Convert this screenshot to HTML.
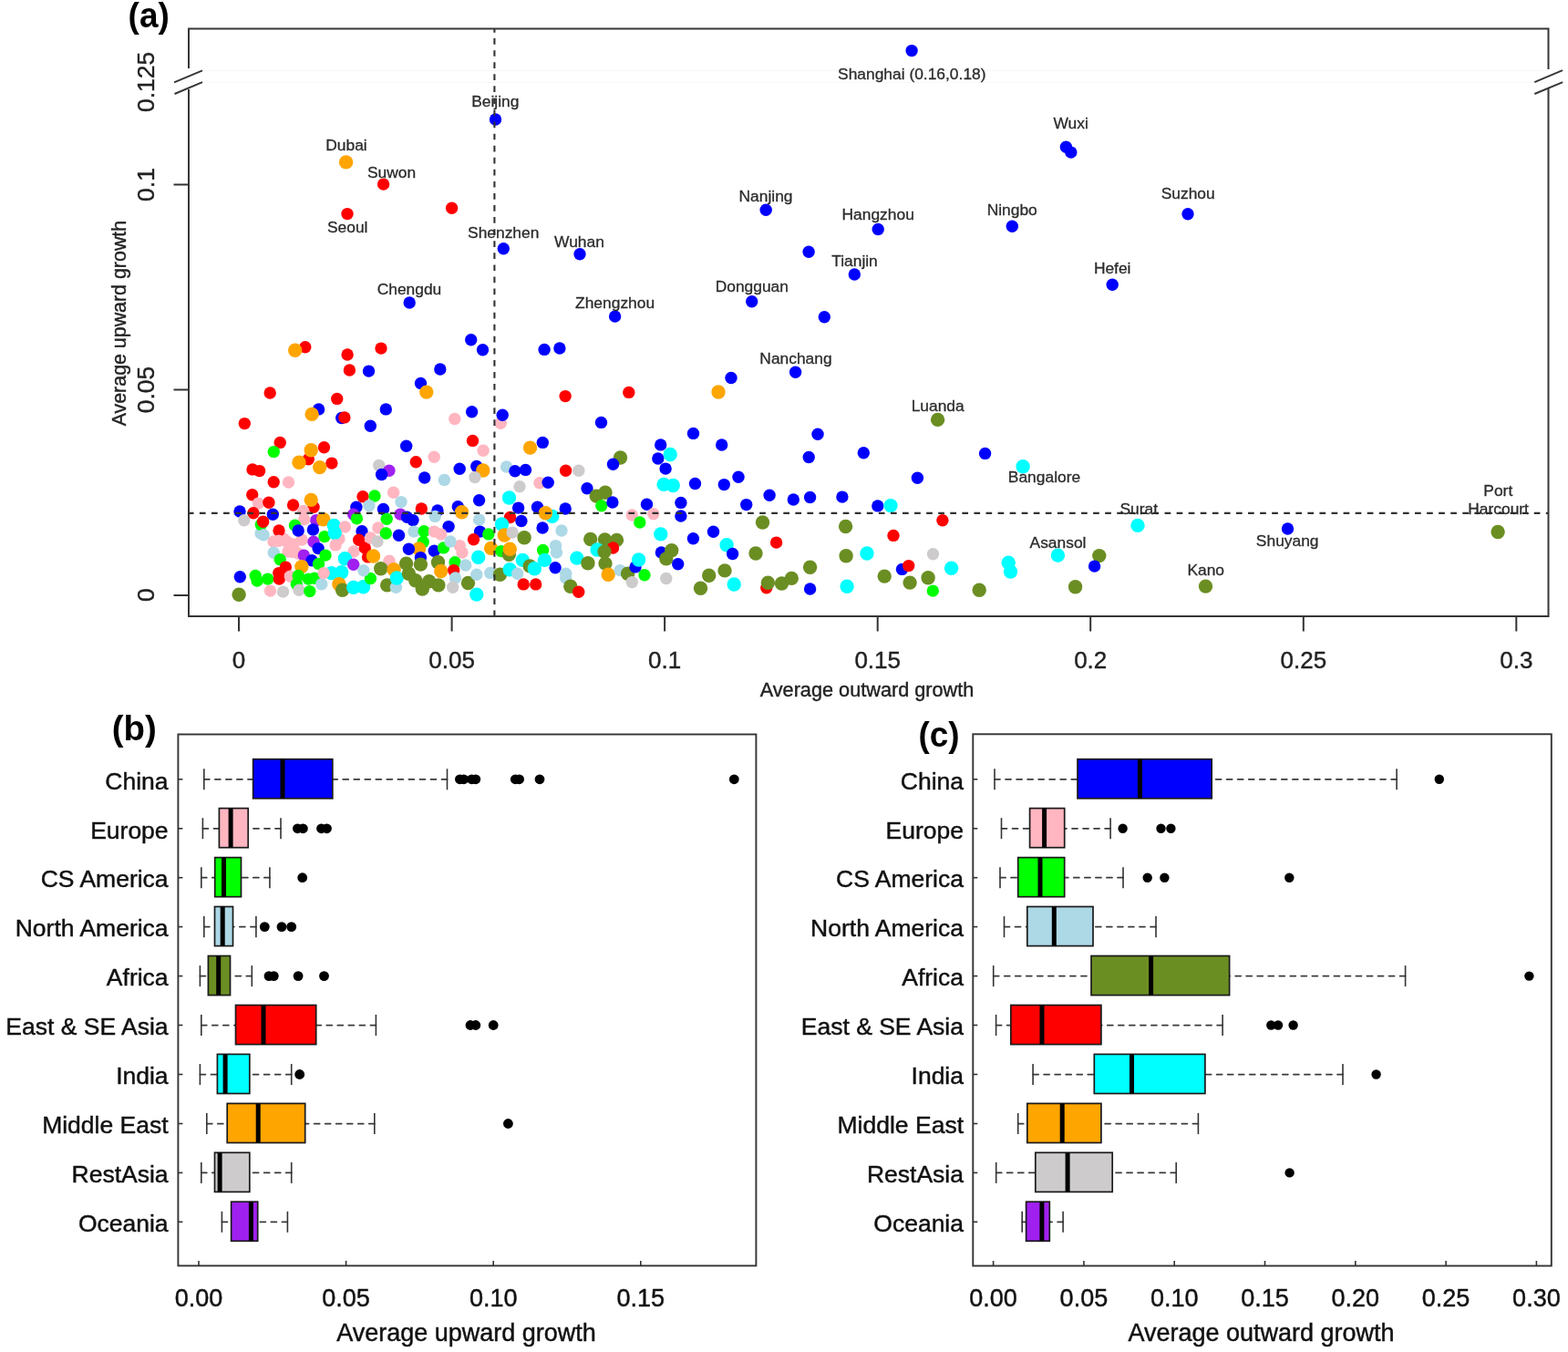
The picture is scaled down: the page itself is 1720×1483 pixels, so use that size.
<!DOCTYPE html>
<html><head><meta charset="utf-8"><title>Figure</title>
<style>html,body{margin:0;padding:0;background:#fff;} svg{display:block;filter:blur(0.4px);}</style>
</head><body>
<svg width="1720" height="1483" viewBox="0 0 1720 1483"><line x1="208" y1="77.5" x2="1697" y2="77.5" stroke="#f6f6f6" stroke-width="1"/>
<line x1="208" y1="90.5" x2="1697" y2="90.5" stroke="#f8f8f8" stroke-width="1"/>
<g>
<circle cx="356.0" cy="588.6" r="6.7" fill="#00FF00"/>
<circle cx="300.0" cy="594.0" r="6.7" fill="#FFB6C1"/>
<circle cx="311.0" cy="591.0" r="6.7" fill="#FFB6C1"/>
<circle cx="322.0" cy="597.0" r="6.7" fill="#FFB6C1"/>
<circle cx="331.0" cy="592.0" r="6.7" fill="#FFB6C1"/>
<circle cx="316.0" cy="605.0" r="6.7" fill="#FFB6C1"/>
<circle cx="327.0" cy="607.0" r="6.7" fill="#FFB6C1"/>
<circle cx="372.0" cy="591.0" r="6.7" fill="#FFB6C1"/>
<circle cx="388.0" cy="605.0" r="6.7" fill="#FFB6C1"/>
<circle cx="286.0" cy="585.0" r="6.7" fill="#ADD8E6"/>
<circle cx="1000.1" cy="55.6" r="6.7" fill="#0000FF"/>
<circle cx="543.5" cy="131.0" r="6.7" fill="#0000FF"/>
<circle cx="379.6" cy="177.9" r="7.7" fill="#FFA500"/>
<circle cx="420.6" cy="202.1" r="6.7" fill="#FF0000"/>
<circle cx="381.0" cy="234.6" r="6.7" fill="#FF0000"/>
<circle cx="495.6" cy="228.2" r="6.7" fill="#FF0000"/>
<circle cx="552.3" cy="272.7" r="6.7" fill="#0000FF"/>
<circle cx="636.0" cy="278.8" r="6.7" fill="#0000FF"/>
<circle cx="449.2" cy="332.0" r="6.7" fill="#0000FF"/>
<circle cx="674.6" cy="347.1" r="6.7" fill="#0000FF"/>
<circle cx="840.2" cy="230.2" r="6.7" fill="#0000FF"/>
<circle cx="963.2" cy="251.5" r="6.7" fill="#0000FF"/>
<circle cx="887.1" cy="276.2" r="6.7" fill="#0000FF"/>
<circle cx="1110.3" cy="248.3" r="6.7" fill="#0000FF"/>
<circle cx="1169.4" cy="161.3" r="6.7" fill="#0000FF"/>
<circle cx="1174.8" cy="167.1" r="6.7" fill="#0000FF"/>
<circle cx="1303.0" cy="234.8" r="6.7" fill="#0000FF"/>
<circle cx="1220.2" cy="312.2" r="6.7" fill="#0000FF"/>
<circle cx="937.3" cy="301.0" r="6.7" fill="#0000FF"/>
<circle cx="824.7" cy="330.8" r="6.7" fill="#0000FF"/>
<circle cx="904.3" cy="347.7" r="6.7" fill="#0000FF"/>
<circle cx="872.6" cy="408.3" r="6.7" fill="#0000FF"/>
<circle cx="802.0" cy="414.5" r="6.7" fill="#0000FF"/>
<circle cx="788.0" cy="430.0" r="7.7" fill="#FFA500"/>
<circle cx="1028.6" cy="460.4" r="7.7" fill="#6B8E23"/>
<circle cx="760.5" cy="475.4" r="6.7" fill="#0000FF"/>
<circle cx="897.0" cy="476.2" r="6.7" fill="#0000FF"/>
<circle cx="791.7" cy="488.0" r="6.7" fill="#0000FF"/>
<circle cx="947.3" cy="496.7" r="6.7" fill="#0000FF"/>
<circle cx="887.2" cy="501.5" r="6.7" fill="#0000FF"/>
<circle cx="1080.6" cy="497.4" r="6.7" fill="#0000FF"/>
<circle cx="1122.1" cy="511.7" r="7.7" fill="#00FFFF"/>
<circle cx="810.0" cy="523.3" r="6.7" fill="#0000FF"/>
<circle cx="762.5" cy="530.5" r="6.7" fill="#0000FF"/>
<circle cx="794.3" cy="531.6" r="6.7" fill="#0000FF"/>
<circle cx="1006.4" cy="524.3" r="6.7" fill="#0000FF"/>
<circle cx="1248.0" cy="576.4" r="7.7" fill="#00FFFF"/>
<circle cx="1412.5" cy="580.0" r="6.7" fill="#0000FF"/>
<circle cx="1643.1" cy="583.5" r="7.7" fill="#6B8E23"/>
<circle cx="1160.4" cy="609.1" r="7.7" fill="#00FFFF"/>
<circle cx="1205.8" cy="609.6" r="7.7" fill="#6B8E23"/>
<circle cx="1200.6" cy="621.1" r="6.7" fill="#0000FF"/>
<circle cx="1179.6" cy="643.7" r="7.7" fill="#6B8E23"/>
<circle cx="1322.5" cy="643.1" r="7.7" fill="#6B8E23"/>
<circle cx="1106.2" cy="617.3" r="7.7" fill="#00FFFF"/>
<circle cx="1108.5" cy="627.0" r="7.7" fill="#00FFFF"/>
<circle cx="334.8" cy="380.8" r="6.7" fill="#FF0000"/>
<circle cx="323.7" cy="384.3" r="7.7" fill="#FFA500"/>
<circle cx="381.1" cy="389.0" r="6.7" fill="#FF0000"/>
<circle cx="418.0" cy="382.1" r="6.7" fill="#FF0000"/>
<circle cx="383.4" cy="406.0" r="6.7" fill="#FF0000"/>
<circle cx="404.5" cy="407.1" r="6.7" fill="#0000FF"/>
<circle cx="461.5" cy="420.5" r="6.7" fill="#0000FF"/>
<circle cx="467.8" cy="430.1" r="7.7" fill="#FFA500"/>
<circle cx="296.2" cy="431.0" r="6.7" fill="#FF0000"/>
<circle cx="369.7" cy="437.4" r="6.7" fill="#FF0000"/>
<circle cx="349.6" cy="448.9" r="6.7" fill="#0000FF"/>
<circle cx="342.1" cy="454.4" r="7.7" fill="#FFA500"/>
<circle cx="374.7" cy="458.5" r="6.7" fill="#0000FF"/>
<circle cx="377.9" cy="457.9" r="6.7" fill="#FF0000"/>
<circle cx="423.3" cy="448.9" r="6.7" fill="#0000FF"/>
<circle cx="268.3" cy="464.6" r="6.7" fill="#FF0000"/>
<circle cx="406.3" cy="467.2" r="6.7" fill="#0000FF"/>
<circle cx="307.2" cy="485.4" r="6.7" fill="#FF0000"/>
<circle cx="300.3" cy="495.6" r="6.7" fill="#00FF00"/>
<circle cx="338.3" cy="503.8" r="6.7" fill="#FF0000"/>
<circle cx="341.2" cy="493.7" r="7.7" fill="#FFA500"/>
<circle cx="355.5" cy="490.7" r="6.7" fill="#FF0000"/>
<circle cx="328.0" cy="507.2" r="7.7" fill="#FFA500"/>
<circle cx="363.9" cy="508.1" r="6.7" fill="#FF0000"/>
<circle cx="350.7" cy="512.6" r="7.7" fill="#FFA500"/>
<circle cx="445.7" cy="489.2" r="6.7" fill="#0000FF"/>
<circle cx="456.3" cy="506.8" r="6.7" fill="#FF0000"/>
<circle cx="415.7" cy="510.5" r="6.7" fill="#CDCBCB"/>
<circle cx="426.9" cy="516.3" r="6.7" fill="#A020F0"/>
<circle cx="418.6" cy="520.5" r="6.7" fill="#0000FF"/>
<circle cx="277.0" cy="514.9" r="6.7" fill="#FF0000"/>
<circle cx="284.6" cy="516.6" r="6.7" fill="#FF0000"/>
<circle cx="465.7" cy="524.0" r="6.7" fill="#0000FF"/>
<circle cx="516.7" cy="372.8" r="6.7" fill="#0000FF"/>
<circle cx="529.5" cy="383.7" r="6.7" fill="#0000FF"/>
<circle cx="597.1" cy="383.4" r="6.7" fill="#0000FF"/>
<circle cx="613.9" cy="382.0" r="6.7" fill="#0000FF"/>
<circle cx="482.8" cy="405.0" r="6.7" fill="#0000FF"/>
<circle cx="620.1" cy="434.6" r="6.7" fill="#FF0000"/>
<circle cx="517.6" cy="451.8" r="6.7" fill="#0000FF"/>
<circle cx="498.8" cy="459.5" r="6.7" fill="#FFB6C1"/>
<circle cx="549.2" cy="464.2" r="6.7" fill="#FFB6C1"/>
<circle cx="551.2" cy="455.3" r="6.7" fill="#0000FF"/>
<circle cx="659.5" cy="463.4" r="6.7" fill="#0000FF"/>
<circle cx="518.5" cy="483.4" r="6.7" fill="#FF0000"/>
<circle cx="530.1" cy="494.3" r="6.7" fill="#FFB6C1"/>
<circle cx="476.2" cy="501.3" r="6.7" fill="#FFB6C1"/>
<circle cx="581.5" cy="491.1" r="7.7" fill="#FFA500"/>
<circle cx="595.3" cy="485.4" r="6.7" fill="#0000FF"/>
<circle cx="680.5" cy="502.0" r="7.7" fill="#6B8E23"/>
<circle cx="672.5" cy="509.3" r="6.7" fill="#0000FF"/>
<circle cx="504.2" cy="514.2" r="6.7" fill="#0000FF"/>
<circle cx="522.8" cy="511.5" r="6.7" fill="#0000FF"/>
<circle cx="529.8" cy="516.0" r="7.7" fill="#FFA500"/>
<circle cx="555.6" cy="512.0" r="6.7" fill="#ADD8E6"/>
<circle cx="564.9" cy="516.8" r="6.7" fill="#0000FF"/>
<circle cx="576.5" cy="515.4" r="6.7" fill="#0000FF"/>
<circle cx="620.6" cy="516.3" r="6.7" fill="#FF0000"/>
<circle cx="634.8" cy="516.3" r="6.7" fill="#CDCBCB"/>
<circle cx="689.8" cy="430.4" r="6.7" fill="#FF0000"/>
<circle cx="724.7" cy="487.9" r="6.7" fill="#0000FF"/>
<circle cx="735.2" cy="498.5" r="7.7" fill="#00FFFF"/>
<circle cx="721.8" cy="503.0" r="6.7" fill="#0000FF"/>
<circle cx="730.1" cy="514.1" r="6.7" fill="#0000FF"/>
<circle cx="888.6" cy="545.5" r="6.7" fill="#0000FF"/>
<circle cx="923.9" cy="545.1" r="6.7" fill="#0000FF"/>
<circle cx="962.8" cy="554.9" r="6.7" fill="#0000FF"/>
<circle cx="977.0" cy="554.6" r="7.7" fill="#00FFFF"/>
<circle cx="1033.9" cy="570.7" r="6.7" fill="#FF0000"/>
<circle cx="927.6" cy="577.5" r="7.7" fill="#6B8E23"/>
<circle cx="870.3" cy="548.0" r="6.7" fill="#0000FF"/>
<circle cx="844.1" cy="543.3" r="6.7" fill="#0000FF"/>
<circle cx="818.7" cy="553.6" r="6.7" fill="#0000FF"/>
<circle cx="300.2" cy="528.8" r="6.7" fill="#FF0000"/>
<circle cx="316.5" cy="529.0" r="6.7" fill="#FFB6C1"/>
<circle cx="276.7" cy="542.8" r="6.7" fill="#FF0000"/>
<circle cx="283.5" cy="552.1" r="6.7" fill="#FFB6C1"/>
<circle cx="294.9" cy="551.2" r="6.7" fill="#FF0000"/>
<circle cx="321.6" cy="554.0" r="6.7" fill="#FF0000"/>
<circle cx="344.0" cy="556.3" r="6.7" fill="#FF0000"/>
<circle cx="341.2" cy="548.4" r="7.7" fill="#FFA500"/>
<circle cx="332.8" cy="560.5" r="6.7" fill="#FFB6C1"/>
<circle cx="398.0" cy="544.8" r="6.7" fill="#FF0000"/>
<circle cx="411.0" cy="544.0" r="6.7" fill="#00FF00"/>
<circle cx="390.9" cy="556.3" r="6.7" fill="#0000FF"/>
<circle cx="404.9" cy="554.6" r="6.7" fill="#ADD8E6"/>
<circle cx="263.0" cy="560.9" r="6.7" fill="#0000FF"/>
<circle cx="277.9" cy="562.8" r="6.7" fill="#FF0000"/>
<circle cx="299.3" cy="564.2" r="6.7" fill="#0000FF"/>
<circle cx="267.7" cy="570.8" r="6.7" fill="#CDCBCB"/>
<circle cx="286.3" cy="575.5" r="6.7" fill="#00FF00"/>
<circle cx="288.6" cy="572.2" r="6.7" fill="#FF0000"/>
<circle cx="387.7" cy="564.2" r="6.7" fill="#A020F0"/>
<circle cx="391.4" cy="568.8" r="6.7" fill="#00FF00"/>
<circle cx="346.7" cy="570.7" r="6.7" fill="#A020F0"/>
<circle cx="354.7" cy="569.8" r="7.7" fill="#FFA500"/>
<circle cx="366.3" cy="576.5" r="7.7" fill="#00FFFF"/>
<circle cx="378.4" cy="578.0" r="6.7" fill="#FFB6C1"/>
<circle cx="333.7" cy="569.8" r="6.7" fill="#FFB6C1"/>
<circle cx="323.5" cy="576.3" r="6.7" fill="#00FF00"/>
<circle cx="327.2" cy="582.0" r="6.7" fill="#0000FF"/>
<circle cx="343.4" cy="581.0" r="6.7" fill="#0000FF"/>
<circle cx="306.0" cy="582.0" r="6.7" fill="#FF0000"/>
<circle cx="397.0" cy="582.8" r="6.7" fill="#0000FF"/>
<circle cx="262.1" cy="652.3" r="7.7" fill="#6B8E23"/>
<circle cx="263.3" cy="632.8" r="6.7" fill="#0000FF"/>
<circle cx="280.2" cy="631.4" r="6.7" fill="#00FF00"/>
<circle cx="282.1" cy="637.0" r="6.7" fill="#00FF00"/>
<circle cx="293.7" cy="635.1" r="6.7" fill="#00FF00"/>
<circle cx="289.1" cy="586.7" r="6.7" fill="#ADD8E6"/>
<circle cx="305.8" cy="593.3" r="6.7" fill="#FFB6C1"/>
<circle cx="315.1" cy="594.2" r="6.7" fill="#FFB6C1"/>
<circle cx="320.7" cy="605.3" r="6.7" fill="#FFB6C1"/>
<circle cx="300.2" cy="606.3" r="6.7" fill="#ADD8E6"/>
<circle cx="307.2" cy="613.7" r="6.7" fill="#00FF00"/>
<circle cx="313.3" cy="622.1" r="6.7" fill="#FF0000"/>
<circle cx="305.8" cy="628.6" r="6.7" fill="#FF0000"/>
<circle cx="306.3" cy="635.1" r="6.7" fill="#FF0000"/>
<circle cx="318.4" cy="632.3" r="6.7" fill="#FFB6C1"/>
<circle cx="344.0" cy="594.2" r="6.7" fill="#A020F0"/>
<circle cx="349.1" cy="601.6" r="6.7" fill="#0000FF"/>
<circle cx="357.0" cy="609.1" r="6.7" fill="#00FF00"/>
<circle cx="333.3" cy="609.1" r="6.7" fill="#A020F0"/>
<circle cx="342.1" cy="614.7" r="6.7" fill="#0000FF"/>
<circle cx="330.9" cy="621.6" r="7.7" fill="#FFA500"/>
<circle cx="349.5" cy="618.4" r="6.7" fill="#00FF00"/>
<circle cx="327.2" cy="631.4" r="6.7" fill="#00FF00"/>
<circle cx="338.4" cy="635.1" r="6.7" fill="#00FF00"/>
<circle cx="344.9" cy="634.2" r="6.7" fill="#00FF00"/>
<circle cx="325.3" cy="640.7" r="6.7" fill="#00FF00"/>
<circle cx="328.1" cy="647.2" r="6.7" fill="#CDCBCB"/>
<circle cx="339.8" cy="648.6" r="6.7" fill="#00FF00"/>
<circle cx="296.5" cy="648.1" r="6.7" fill="#FFB6C1"/>
<circle cx="310.5" cy="649.1" r="6.7" fill="#CDCBCB"/>
<circle cx="352.8" cy="640.7" r="6.7" fill="#ADD8E6"/>
<circle cx="367.2" cy="584.5" r="7.7" fill="#00FFFF"/>
<circle cx="368.1" cy="597.9" r="6.7" fill="#FFB6C1"/>
<circle cx="378.4" cy="612.8" r="7.7" fill="#00FFFF"/>
<circle cx="363.5" cy="628.6" r="7.7" fill="#00FFFF"/>
<circle cx="374.7" cy="627.7" r="7.7" fill="#00FFFF"/>
<circle cx="355.1" cy="628.6" r="6.7" fill="#FFB6C1"/>
<circle cx="387.7" cy="619.3" r="6.7" fill="#A020F0"/>
<circle cx="371.9" cy="640.7" r="7.7" fill="#FFA500"/>
<circle cx="375.6" cy="647.2" r="7.7" fill="#6B8E23"/>
<circle cx="387.7" cy="644.4" r="7.7" fill="#00FFFF"/>
<circle cx="398.5" cy="643.8" r="7.7" fill="#00FFFF"/>
<circle cx="393.7" cy="592.3" r="6.7" fill="#FF0000"/>
<circle cx="400.3" cy="601.0" r="6.7" fill="#FF0000"/>
<circle cx="403.5" cy="610.9" r="6.7" fill="#FF0000"/>
<circle cx="409.5" cy="610.0" r="7.7" fill="#FFA500"/>
<circle cx="406.4" cy="590.0" r="6.7" fill="#FFB6C1"/>
<circle cx="406.4" cy="634.5" r="6.7" fill="#00FF00"/>
<circle cx="398.8" cy="625.8" r="6.7" fill="#ADD8E6"/>
<circle cx="487.4" cy="526.4" r="6.7" fill="#ADD8E6"/>
<circle cx="520.9" cy="523.6" r="6.7" fill="#CDCBCB"/>
<circle cx="431.6" cy="540.3" r="6.7" fill="#FFB6C1"/>
<circle cx="440.0" cy="550.6" r="6.7" fill="#ADD8E6"/>
<circle cx="420.5" cy="558.5" r="6.7" fill="#0000FF"/>
<circle cx="462.3" cy="558.0" r="6.7" fill="#FF0000"/>
<circle cx="480.0" cy="559.9" r="6.7" fill="#0000FF"/>
<circle cx="502.3" cy="555.7" r="6.7" fill="#0000FF"/>
<circle cx="506.5" cy="561.7" r="7.7" fill="#FFA500"/>
<circle cx="525.6" cy="548.7" r="6.7" fill="#0000FF"/>
<circle cx="558.5" cy="546.0" r="7.7" fill="#00FFFF"/>
<circle cx="439.1" cy="564.1" r="6.7" fill="#A020F0"/>
<circle cx="446.5" cy="567.3" r="6.7" fill="#0000FF"/>
<circle cx="453.0" cy="570.6" r="6.7" fill="#0000FF"/>
<circle cx="424.2" cy="569.2" r="6.7" fill="#00FF00"/>
<circle cx="477.2" cy="566.4" r="6.7" fill="#ADD8E6"/>
<circle cx="492.1" cy="577.6" r="6.7" fill="#0000FF"/>
<circle cx="525.6" cy="570.1" r="6.7" fill="#ADD8E6"/>
<circle cx="559.5" cy="567.5" r="6.7" fill="#FF0000"/>
<circle cx="550.5" cy="575.0" r="7.7" fill="#00FFFF"/>
<circle cx="414.9" cy="579.0" r="6.7" fill="#FFB6C1"/>
<circle cx="423.3" cy="585.0" r="6.7" fill="#00FF00"/>
<circle cx="437.5" cy="587.3" r="6.7" fill="#0000FF"/>
<circle cx="454.0" cy="583.1" r="6.7" fill="#ADD8E6"/>
<circle cx="465.1" cy="582.7" r="6.7" fill="#00FF00"/>
<circle cx="476.3" cy="583.1" r="6.7" fill="#FFB6C1"/>
<circle cx="483.7" cy="585.9" r="6.7" fill="#FFB6C1"/>
<circle cx="526.5" cy="583.1" r="6.7" fill="#0000FF"/>
<circle cx="519.5" cy="591.8" r="6.7" fill="#FF0000"/>
<circle cx="535.8" cy="585.9" r="6.7" fill="#00FF00"/>
<circle cx="553.3" cy="587.0" r="7.7" fill="#FFA500"/>
<circle cx="414.0" cy="594.0" r="6.7" fill="#CDCBCB"/>
<circle cx="464.2" cy="594.5" r="6.7" fill="#00FF00"/>
<circle cx="459.5" cy="601.9" r="7.7" fill="#FFA500"/>
<circle cx="448.4" cy="602.3" r="6.7" fill="#0000FF"/>
<circle cx="476.3" cy="604.2" r="6.7" fill="#0000FF"/>
<circle cx="486.5" cy="600.9" r="6.7" fill="#00FF00"/>
<circle cx="504.2" cy="598.6" r="6.7" fill="#FFB6C1"/>
<circle cx="494.0" cy="594.0" r="6.7" fill="#ADD8E6"/>
<circle cx="427.0" cy="615.3" r="6.7" fill="#FFB6C1"/>
<circle cx="417.7" cy="623.7" r="7.7" fill="#6B8E23"/>
<circle cx="432.1" cy="624.7" r="7.7" fill="#FFA500"/>
<circle cx="424.7" cy="641.9" r="7.7" fill="#6B8E23"/>
<circle cx="434.4" cy="644.2" r="6.7" fill="#ADD8E6"/>
<circle cx="435.3" cy="634.0" r="7.7" fill="#00FFFF"/>
<circle cx="461.4" cy="611.6" r="6.7" fill="#0000FF"/>
<circle cx="445.6" cy="618.1" r="7.7" fill="#6B8E23"/>
<circle cx="461.4" cy="619.1" r="7.7" fill="#6B8E23"/>
<circle cx="448.4" cy="629.3" r="7.7" fill="#6B8E23"/>
<circle cx="455.8" cy="636.7" r="7.7" fill="#6B8E23"/>
<circle cx="463.3" cy="646.0" r="7.7" fill="#6B8E23"/>
<circle cx="470.7" cy="637.7" r="7.7" fill="#6B8E23"/>
<circle cx="480.9" cy="641.9" r="7.7" fill="#6B8E23"/>
<circle cx="480.5" cy="616.7" r="7.7" fill="#6B8E23"/>
<circle cx="483.7" cy="626.5" r="7.7" fill="#FFA500"/>
<circle cx="499.1" cy="616.7" r="6.7" fill="#00FF00"/>
<circle cx="497.7" cy="625.6" r="6.7" fill="#FF0000"/>
<circle cx="510.7" cy="620.0" r="6.7" fill="#ADD8E6"/>
<circle cx="499.5" cy="634.0" r="6.7" fill="#ADD8E6"/>
<circle cx="496.7" cy="644.2" r="6.7" fill="#CDCBCB"/>
<circle cx="513.5" cy="639.5" r="7.7" fill="#6B8E23"/>
<circle cx="522.8" cy="652.1" r="7.7" fill="#00FFFF"/>
<circle cx="522.8" cy="630.2" r="6.7" fill="#ADD8E6"/>
<circle cx="524.7" cy="611.2" r="7.7" fill="#00FFFF"/>
<circle cx="538.6" cy="601.4" r="7.7" fill="#FFA500"/>
<circle cx="549.8" cy="604.6" r="6.7" fill="#00FF00"/>
<circle cx="558.3" cy="608.3" r="7.7" fill="#6B8E23"/>
<circle cx="537.7" cy="628.4" r="6.7" fill="#ADD8E6"/>
<circle cx="548.5" cy="630.2" r="7.7" fill="#6B8E23"/>
<circle cx="559.2" cy="624.7" r="7.7" fill="#00FFFF"/>
<circle cx="507.0" cy="606.0" r="6.7" fill="#FFB6C1"/>
<circle cx="570.0" cy="533.8" r="6.7" fill="#CDCBCB"/>
<circle cx="591.9" cy="529.7" r="6.7" fill="#FFB6C1"/>
<circle cx="601.2" cy="529.2" r="6.7" fill="#0000FF"/>
<circle cx="644.0" cy="535.7" r="6.7" fill="#0000FF"/>
<circle cx="654.2" cy="544.1" r="7.7" fill="#6B8E23"/>
<circle cx="664.0" cy="540.3" r="7.7" fill="#6B8E23"/>
<circle cx="659.8" cy="554.8" r="6.7" fill="#00FF00"/>
<circle cx="671.9" cy="551.0" r="6.7" fill="#0000FF"/>
<circle cx="709.5" cy="553.3" r="6.7" fill="#0000FF"/>
<circle cx="568.6" cy="557.1" r="6.7" fill="#0000FF"/>
<circle cx="589.5" cy="556.2" r="6.7" fill="#0000FF"/>
<circle cx="605.8" cy="566.4" r="7.7" fill="#00FFFF"/>
<circle cx="598.4" cy="562.7" r="7.7" fill="#FFA500"/>
<circle cx="620.2" cy="558.0" r="6.7" fill="#0000FF"/>
<circle cx="571.9" cy="571.5" r="6.7" fill="#0000FF"/>
<circle cx="595.1" cy="579.0" r="6.7" fill="#0000FF"/>
<circle cx="616.0" cy="582.0" r="6.7" fill="#ADD8E6"/>
<circle cx="693.3" cy="565.0" r="6.7" fill="#FFB6C1"/>
<circle cx="701.8" cy="573.0" r="6.7" fill="#00FF00"/>
<circle cx="562.1" cy="584.1" r="6.7" fill="#CDCBCB"/>
<circle cx="575.1" cy="589.7" r="7.7" fill="#6B8E23"/>
<circle cx="647.7" cy="591.5" r="7.7" fill="#6B8E23"/>
<circle cx="663.5" cy="592.0" r="7.7" fill="#6B8E23"/>
<circle cx="676.5" cy="592.4" r="7.7" fill="#6B8E23"/>
<circle cx="609.5" cy="598.6" r="6.7" fill="#ADD8E6"/>
<circle cx="610.5" cy="606.0" r="6.7" fill="#ADD8E6"/>
<circle cx="595.6" cy="603.5" r="6.7" fill="#00FF00"/>
<circle cx="655.1" cy="603.0" r="7.7" fill="#00FFFF"/>
<circle cx="672.5" cy="601.0" r="6.7" fill="#FF0000"/>
<circle cx="559.3" cy="602.3" r="7.7" fill="#FFA500"/>
<circle cx="573.3" cy="614.4" r="7.7" fill="#00FFFF"/>
<circle cx="581.2" cy="620.9" r="7.7" fill="#6B8E23"/>
<circle cx="586.3" cy="623.7" r="7.7" fill="#00FFFF"/>
<circle cx="597.4" cy="614.4" r="7.7" fill="#00FFFF"/>
<circle cx="609.1" cy="622.8" r="6.7" fill="#0000FF"/>
<circle cx="620.7" cy="629.3" r="6.7" fill="#ADD8E6"/>
<circle cx="620.7" cy="634.0" r="6.7" fill="#ADD8E6"/>
<circle cx="567.7" cy="629.3" r="6.7" fill="#ADD8E6"/>
<circle cx="574.2" cy="640.9" r="6.7" fill="#FF0000"/>
<circle cx="587.7" cy="640.9" r="6.7" fill="#FF0000"/>
<circle cx="625.8" cy="643.3" r="7.7" fill="#6B8E23"/>
<circle cx="634.7" cy="649.3" r="6.7" fill="#FF0000"/>
<circle cx="632.8" cy="612.1" r="7.7" fill="#00FFFF"/>
<circle cx="644.9" cy="617.7" r="7.7" fill="#6B8E23"/>
<circle cx="663.0" cy="605.1" r="7.7" fill="#6B8E23"/>
<circle cx="664.0" cy="618.1" r="7.7" fill="#6B8E23"/>
<circle cx="667.2" cy="630.2" r="7.7" fill="#FFA500"/>
<circle cx="680.2" cy="625.6" r="6.7" fill="#ADD8E6"/>
<circle cx="688.6" cy="629.3" r="7.7" fill="#6B8E23"/>
<circle cx="693.3" cy="638.6" r="6.7" fill="#CDCBCB"/>
<circle cx="697.0" cy="621.9" r="6.7" fill="#0000FF"/>
<circle cx="700.6" cy="614.0" r="7.7" fill="#00FFFF"/>
<circle cx="707.0" cy="630.7" r="6.7" fill="#00FF00"/>
<circle cx="728.1" cy="531.4" r="7.7" fill="#00FFFF"/>
<circle cx="738.3" cy="532.5" r="7.7" fill="#00FFFF"/>
<circle cx="746.9" cy="551.4" r="6.7" fill="#0000FF"/>
<circle cx="746.9" cy="566.0" r="6.7" fill="#0000FF"/>
<circle cx="716.7" cy="563.8" r="6.7" fill="#FFB6C1"/>
<circle cx="724.8" cy="585.9" r="7.7" fill="#00FFFF"/>
<circle cx="760.4" cy="590.8" r="6.7" fill="#0000FF"/>
<circle cx="782.5" cy="583.2" r="6.7" fill="#0000FF"/>
<circle cx="836.5" cy="573.0" r="7.7" fill="#6B8E23"/>
<circle cx="851.6" cy="595.1" r="6.7" fill="#FF0000"/>
<circle cx="797.1" cy="597.8" r="7.7" fill="#00FFFF"/>
<circle cx="803.6" cy="607.5" r="6.7" fill="#0000FF"/>
<circle cx="829.0" cy="607.0" r="7.7" fill="#6B8E23"/>
<circle cx="725.4" cy="605.9" r="6.7" fill="#0000FF"/>
<circle cx="736.7" cy="603.7" r="7.7" fill="#6B8E23"/>
<circle cx="730.8" cy="612.9" r="7.7" fill="#6B8E23"/>
<circle cx="743.7" cy="618.8" r="6.7" fill="#0000FF"/>
<circle cx="730.8" cy="634.5" r="6.7" fill="#CDCBCB"/>
<circle cx="777.7" cy="631.3" r="7.7" fill="#6B8E23"/>
<circle cx="795.0" cy="625.9" r="7.7" fill="#6B8E23"/>
<circle cx="768.5" cy="645.3" r="7.7" fill="#6B8E23"/>
<circle cx="805.2" cy="641.0" r="7.7" fill="#00FFFF"/>
<circle cx="840.8" cy="644.7" r="6.7" fill="#FF0000"/>
<circle cx="842.4" cy="639.3" r="7.7" fill="#6B8E23"/>
<circle cx="857.5" cy="640.0" r="7.7" fill="#6B8E23"/>
<circle cx="868.3" cy="634.4" r="7.7" fill="#6B8E23"/>
<circle cx="980.0" cy="587.4" r="6.7" fill="#FF0000"/>
<circle cx="928.1" cy="609.8" r="7.7" fill="#6B8E23"/>
<circle cx="951.0" cy="607.0" r="7.7" fill="#00FFFF"/>
<circle cx="1023.5" cy="607.7" r="6.7" fill="#CDCBCB"/>
<circle cx="888.6" cy="622.3" r="7.7" fill="#6B8E23"/>
<circle cx="888.6" cy="646.0" r="6.7" fill="#0000FF"/>
<circle cx="929.1" cy="643.3" r="7.7" fill="#00FFFF"/>
<circle cx="970.2" cy="632.1" r="7.7" fill="#6B8E23"/>
<circle cx="989.5" cy="624.4" r="6.7" fill="#0000FF"/>
<circle cx="996.7" cy="620.6" r="6.7" fill="#FF0000"/>
<circle cx="998.1" cy="639.1" r="7.7" fill="#6B8E23"/>
<circle cx="1018.1" cy="633.8" r="7.7" fill="#6B8E23"/>
<circle cx="1023.3" cy="648.1" r="6.7" fill="#00FF00"/>
<circle cx="1043.6" cy="623.3" r="7.7" fill="#00FFFF"/>
<circle cx="1074.2" cy="647.2" r="7.7" fill="#6B8E23"/>
</g>
<line x1="542.4" y1="31.8" x2="542.4" y2="676" stroke="#333" stroke-width="2.1" stroke-dasharray="6.7 6.37" stroke-dashoffset="2.8"/>
<line x1="207" y1="562.9" x2="1698" y2="562.9" stroke="#333" stroke-width="2.1" stroke-dasharray="6.7 6.37" stroke-dashoffset="1.2"/>
<path d="M207,75 L207,31.6 L1698.5,31.6 L1698.5,76" stroke="#363636" stroke-width="2" fill="none"/>
<path d="M207,98 L207,676 L1698.5,676 L1698.5,97" stroke="#363636" stroke-width="2" fill="none"/>
<path d="M191,90.3 L222,77.3 M191.5,103 L222,90.2" stroke="#363636" stroke-width="2" fill="none"/>
<path d="M1683.3,90.2 L1714,77.1 M1683.3,103 L1714.2,90.2" stroke="#363636" stroke-width="2" fill="none"/>
<line x1="190.5" y1="653" x2="207" y2="653" stroke="#333" stroke-width="2"/>
<line x1="190.5" y1="427.5" x2="207" y2="427.5" stroke="#333" stroke-width="2"/>
<line x1="190.5" y1="202.5" x2="207" y2="202.5" stroke="#333" stroke-width="2"/>
<line x1="262.0" y1="676" x2="262.0" y2="692.5" stroke="#333" stroke-width="2"/>
<line x1="495.6" y1="676" x2="495.6" y2="692.5" stroke="#333" stroke-width="2"/>
<line x1="729.1" y1="676" x2="729.1" y2="692.5" stroke="#333" stroke-width="2"/>
<line x1="962.7" y1="676" x2="962.7" y2="692.5" stroke="#333" stroke-width="2"/>
<line x1="1196.2" y1="676" x2="1196.2" y2="692.5" stroke="#333" stroke-width="2"/>
<line x1="1429.8" y1="676" x2="1429.8" y2="692.5" stroke="#333" stroke-width="2"/>
<line x1="1663.3" y1="676" x2="1663.3" y2="692.5" stroke="#333" stroke-width="2"/>
<text transform="translate(262.0,733) scale(1.04,1)" font-size="25" text-anchor="middle" font-family="Liberation Sans, Arial, sans-serif" fill="#222" stroke="#222" stroke-width="0.4">0</text>
<text transform="translate(495.6,733) scale(1.04,1)" font-size="25" text-anchor="middle" font-family="Liberation Sans, Arial, sans-serif" fill="#222" stroke="#222" stroke-width="0.4">0.05</text>
<text transform="translate(729.1,733) scale(1.04,1)" font-size="25" text-anchor="middle" font-family="Liberation Sans, Arial, sans-serif" fill="#222" stroke="#222" stroke-width="0.4">0.1</text>
<text transform="translate(962.7,733) scale(1.04,1)" font-size="25" text-anchor="middle" font-family="Liberation Sans, Arial, sans-serif" fill="#222" stroke="#222" stroke-width="0.4">0.15</text>
<text transform="translate(1196.2,733) scale(1.04,1)" font-size="25" text-anchor="middle" font-family="Liberation Sans, Arial, sans-serif" fill="#222" stroke="#222" stroke-width="0.4">0.2</text>
<text transform="translate(1429.8,733) scale(1.04,1)" font-size="25" text-anchor="middle" font-family="Liberation Sans, Arial, sans-serif" fill="#222" stroke="#222" stroke-width="0.4">0.25</text>
<text transform="translate(1663.3,733) scale(1.04,1)" font-size="25" text-anchor="middle" font-family="Liberation Sans, Arial, sans-serif" fill="#222" stroke="#222" stroke-width="0.4">0.3</text>
<text transform="translate(169.4,652.5) rotate(-90)" font-size="26.5" text-anchor="middle" font-family="Liberation Sans, Arial, sans-serif" fill="#222" stroke="#222" stroke-width="0.4">0</text>
<text transform="translate(169.4,427.5) rotate(-90)" font-size="26.5" text-anchor="middle" font-family="Liberation Sans, Arial, sans-serif" fill="#222" stroke="#222" stroke-width="0.4">0.05</text>
<text transform="translate(169.4,202.5) rotate(-90)" font-size="26.5" text-anchor="middle" font-family="Liberation Sans, Arial, sans-serif" fill="#222" stroke="#222" stroke-width="0.4">0.1</text>
<text transform="translate(169.4,89.9) rotate(-90)" font-size="26.5" text-anchor="middle" font-family="Liberation Sans, Arial, sans-serif" fill="#222" stroke="#222" stroke-width="0.4">0.125</text>
<text x="951" y="764" font-size="21.7" text-anchor="middle" font-family="Liberation Sans, Arial, sans-serif" fill="#222" stroke="#222" stroke-width="0.4">Average outward growth</text>
<text transform="translate(137.6,354.6) rotate(-90)" font-size="21.4" text-anchor="middle" font-family="Liberation Sans, Arial, sans-serif" fill="#222" stroke="#222" stroke-width="0.4">Average upward growth</text>
<text x="1000.3" y="87.4" font-size="17.4" text-anchor="middle" font-family="Liberation Sans, Arial, sans-serif" fill="#2b2b2b" stroke="#2b2b2b" stroke-width="0.3">Shanghai (0.16,0.18)</text>
<text x="543.3" y="117.3" font-size="17.4" text-anchor="middle" font-family="Liberation Sans, Arial, sans-serif" fill="#2b2b2b" stroke="#2b2b2b" stroke-width="0.3">Beijing</text>
<text x="380" y="164.5" font-size="17.4" text-anchor="middle" font-family="Liberation Sans, Arial, sans-serif" fill="#2b2b2b" stroke="#2b2b2b" stroke-width="0.3">Dubai</text>
<text x="429.5" y="194.5" font-size="17.4" text-anchor="middle" font-family="Liberation Sans, Arial, sans-serif" fill="#2b2b2b" stroke="#2b2b2b" stroke-width="0.3">Suwon</text>
<text x="381.2" y="255" font-size="17.4" text-anchor="middle" font-family="Liberation Sans, Arial, sans-serif" fill="#2b2b2b" stroke="#2b2b2b" stroke-width="0.3">Seoul</text>
<text x="552.2" y="261" font-size="17.4" text-anchor="middle" font-family="Liberation Sans, Arial, sans-serif" fill="#2b2b2b" stroke="#2b2b2b" stroke-width="0.3">Shenzhen</text>
<text x="635.5" y="271.2" font-size="17.4" text-anchor="middle" font-family="Liberation Sans, Arial, sans-serif" fill="#2b2b2b" stroke="#2b2b2b" stroke-width="0.3">Wuhan</text>
<text x="449" y="322.5" font-size="17.4" text-anchor="middle" font-family="Liberation Sans, Arial, sans-serif" fill="#2b2b2b" stroke="#2b2b2b" stroke-width="0.3">Chengdu</text>
<text x="674.6" y="337.9" font-size="17.4" text-anchor="middle" font-family="Liberation Sans, Arial, sans-serif" fill="#2b2b2b" stroke="#2b2b2b" stroke-width="0.3">Zhengzhou</text>
<text x="840" y="220.5" font-size="17.4" text-anchor="middle" font-family="Liberation Sans, Arial, sans-serif" fill="#2b2b2b" stroke="#2b2b2b" stroke-width="0.3">Nanjing</text>
<text x="963.2" y="241.2" font-size="17.4" text-anchor="middle" font-family="Liberation Sans, Arial, sans-serif" fill="#2b2b2b" stroke="#2b2b2b" stroke-width="0.3">Hangzhou</text>
<text x="1174.6" y="141.3" font-size="17.4" text-anchor="middle" font-family="Liberation Sans, Arial, sans-serif" fill="#2b2b2b" stroke="#2b2b2b" stroke-width="0.3">Wuxi</text>
<text x="1110.2" y="236.3" font-size="17.4" text-anchor="middle" font-family="Liberation Sans, Arial, sans-serif" fill="#2b2b2b" stroke="#2b2b2b" stroke-width="0.3">Ningbo</text>
<text x="1303.2" y="218.2" font-size="17.4" text-anchor="middle" font-family="Liberation Sans, Arial, sans-serif" fill="#2b2b2b" stroke="#2b2b2b" stroke-width="0.3">Suzhou</text>
<text x="1220.2" y="300" font-size="17.4" text-anchor="middle" font-family="Liberation Sans, Arial, sans-serif" fill="#2b2b2b" stroke="#2b2b2b" stroke-width="0.3">Hefei</text>
<text x="937.5" y="292" font-size="17.4" text-anchor="middle" font-family="Liberation Sans, Arial, sans-serif" fill="#2b2b2b" stroke="#2b2b2b" stroke-width="0.3">Tianjin</text>
<text x="824.8" y="320" font-size="17.4" text-anchor="middle" font-family="Liberation Sans, Arial, sans-serif" fill="#2b2b2b" stroke="#2b2b2b" stroke-width="0.3">Dongguan</text>
<text x="873" y="399" font-size="17.4" text-anchor="middle" font-family="Liberation Sans, Arial, sans-serif" fill="#2b2b2b" stroke="#2b2b2b" stroke-width="0.3">Nanchang</text>
<text x="1028.7" y="450.7" font-size="17.4" text-anchor="middle" font-family="Liberation Sans, Arial, sans-serif" fill="#2b2b2b" stroke="#2b2b2b" stroke-width="0.3">Luanda</text>
<text x="1145.5" y="528.7" font-size="17.4" text-anchor="middle" font-family="Liberation Sans, Arial, sans-serif" fill="#2b2b2b" stroke="#2b2b2b" stroke-width="0.3">Bangalore</text>
<text x="1249.2" y="564.3" font-size="17.4" text-anchor="middle" font-family="Liberation Sans, Arial, sans-serif" fill="#2b2b2b" stroke="#2b2b2b" stroke-width="0.3">Surat</text>
<text x="1412.2" y="599.2" font-size="17.4" text-anchor="middle" font-family="Liberation Sans, Arial, sans-serif" fill="#2b2b2b" stroke="#2b2b2b" stroke-width="0.3">Shuyang</text>
<text x="1643.3" y="544" font-size="17.4" text-anchor="middle" font-family="Liberation Sans, Arial, sans-serif" fill="#2b2b2b" stroke="#2b2b2b" stroke-width="0.3">Port</text>
<text x="1643.6" y="563.6" font-size="17.4" text-anchor="middle" font-family="Liberation Sans, Arial, sans-serif" fill="#2b2b2b" stroke="#2b2b2b" stroke-width="0.3">Harcourt</text>
<text x="1160.5" y="600.8" font-size="17.4" text-anchor="middle" font-family="Liberation Sans, Arial, sans-serif" fill="#2b2b2b" stroke="#2b2b2b" stroke-width="0.3">Asansol</text>
<text x="1322.7" y="631.3" font-size="17.4" text-anchor="middle" font-family="Liberation Sans, Arial, sans-serif" fill="#2b2b2b" stroke="#2b2b2b" stroke-width="0.3">Kano</text>
<text transform="translate(140.6,30.1) scale(0.96,1)" font-size="38.5" font-weight="bold" font-family="Liberation Sans, Arial, sans-serif" fill="#000">(a)</text>
<rect x="195.4" y="805.5" width="634.0" height="582.9000000000001" fill="none" stroke="#333" stroke-width="1.9"/>
<line x1="195.4" y1="854.8" x2="200.4" y2="854.8" stroke="#333" stroke-width="1.6"/>
<line x1="223.8" y1="854.8" x2="277.6" y2="854.8" stroke="#3a3a3a" stroke-width="1.75" stroke-dasharray="6.015 6.015" stroke-linecap="round"/>
<line x1="490.5" y1="854.8" x2="364.8" y2="854.8" stroke="#3a3a3a" stroke-width="1.75" stroke-dasharray="6.015 6.015" stroke-linecap="round"/>
<line x1="223.8" y1="843.3" x2="223.8" y2="866.3" stroke="#333" stroke-width="1.6"/>
<line x1="490.5" y1="843.3" x2="490.5" y2="866.3" stroke="#333" stroke-width="1.6"/>
<rect x="277.6" y="832.7" width="87.2" height="43.1" fill="#0000FF" stroke="#1a1a1a" stroke-width="1.7"/>
<line x1="310" y1="832.7" x2="310" y2="875.8" stroke="#000" stroke-width="5"/>
<circle cx="504.4" cy="854.8" r="5.4" fill="#000"/>
<circle cx="508.7" cy="854.8" r="5.4" fill="#000"/>
<circle cx="517.4" cy="854.8" r="5.4" fill="#000"/>
<circle cx="521.8" cy="854.8" r="5.4" fill="#000"/>
<circle cx="565.3" cy="854.8" r="5.4" fill="#000"/>
<circle cx="569.6" cy="854.8" r="5.4" fill="#000"/>
<circle cx="592" cy="854.8" r="5.4" fill="#000"/>
<circle cx="805.3" cy="854.8" r="5.4" fill="#000"/>
<text x="184.6" y="865.5" font-size="26.5" text-anchor="end" font-family="Liberation Sans, Arial, sans-serif" fill="#111" stroke="#111" stroke-width="0.45">China</text>
<line x1="195.4" y1="908.8" x2="200.4" y2="908.8" stroke="#333" stroke-width="1.6"/>
<line x1="222.4" y1="908.8" x2="240.4" y2="908.8" stroke="#3a3a3a" stroke-width="1.75" stroke-dasharray="6.015 6.015" stroke-linecap="round"/>
<line x1="308" y1="908.8" x2="272.2" y2="908.8" stroke="#3a3a3a" stroke-width="1.75" stroke-dasharray="6.015 6.015" stroke-linecap="round"/>
<line x1="222.4" y1="897.2" x2="222.4" y2="920.2" stroke="#333" stroke-width="1.6"/>
<line x1="308" y1="897.2" x2="308" y2="920.2" stroke="#333" stroke-width="1.6"/>
<rect x="240.4" y="886.6" width="31.8" height="43.1" fill="#FFB6C1" stroke="#1a1a1a" stroke-width="1.7"/>
<line x1="253.1" y1="886.6" x2="253.1" y2="929.8" stroke="#000" stroke-width="5"/>
<circle cx="326.4" cy="908.8" r="5.4" fill="#000"/>
<circle cx="332.4" cy="908.8" r="5.4" fill="#000"/>
<circle cx="352.5" cy="908.8" r="5.4" fill="#000"/>
<circle cx="358.5" cy="908.8" r="5.4" fill="#000"/>
<text x="184.6" y="919.5" font-size="26.5" text-anchor="end" font-family="Liberation Sans, Arial, sans-serif" fill="#111" stroke="#111" stroke-width="0.45">Europe</text>
<line x1="195.4" y1="962.7" x2="200.4" y2="962.7" stroke="#333" stroke-width="1.6"/>
<line x1="220.8" y1="962.7" x2="235.7" y2="962.7" stroke="#3a3a3a" stroke-width="1.75" stroke-dasharray="6.015 6.015" stroke-linecap="round"/>
<line x1="295.9" y1="962.7" x2="264.5" y2="962.7" stroke="#3a3a3a" stroke-width="1.75" stroke-dasharray="6.015 6.015" stroke-linecap="round"/>
<line x1="220.8" y1="951.2" x2="220.8" y2="974.2" stroke="#333" stroke-width="1.6"/>
<line x1="295.9" y1="951.2" x2="295.9" y2="974.2" stroke="#333" stroke-width="1.6"/>
<rect x="235.7" y="940.6" width="28.8" height="43.1" fill="#00FF00" stroke="#1a1a1a" stroke-width="1.7"/>
<line x1="245.5" y1="940.6" x2="245.5" y2="983.7" stroke="#000" stroke-width="5"/>
<circle cx="331.7" cy="962.7" r="5.4" fill="#000"/>
<text x="184.6" y="973.4" font-size="26.5" text-anchor="end" font-family="Liberation Sans, Arial, sans-serif" fill="#111" stroke="#111" stroke-width="0.45">CS America</text>
<line x1="195.4" y1="1016.6" x2="200.4" y2="1016.6" stroke="#333" stroke-width="1.6"/>
<line x1="223.8" y1="1016.6" x2="235.5" y2="1016.6" stroke="#3a3a3a" stroke-width="1.75" stroke-dasharray="6.015 6.015" stroke-linecap="round"/>
<line x1="280.9" y1="1016.6" x2="255.5" y2="1016.6" stroke="#3a3a3a" stroke-width="1.75" stroke-dasharray="6.015 6.015" stroke-linecap="round"/>
<line x1="223.8" y1="1005.1" x2="223.8" y2="1028.2" stroke="#333" stroke-width="1.6"/>
<line x1="280.9" y1="1005.1" x2="280.9" y2="1028.2" stroke="#333" stroke-width="1.6"/>
<rect x="235.5" y="994.5" width="20.0" height="43.1" fill="#ADD8E6" stroke="#1a1a1a" stroke-width="1.7"/>
<line x1="244.2" y1="994.5" x2="244.2" y2="1037.7" stroke="#000" stroke-width="5"/>
<circle cx="290.3" cy="1016.6" r="5.4" fill="#000"/>
<circle cx="309" cy="1016.6" r="5.4" fill="#000"/>
<circle cx="319.7" cy="1016.6" r="5.4" fill="#000"/>
<text x="184.6" y="1027.3" font-size="26.5" text-anchor="end" font-family="Liberation Sans, Arial, sans-serif" fill="#111" stroke="#111" stroke-width="0.45">North America</text>
<line x1="195.4" y1="1070.6" x2="200.4" y2="1070.6" stroke="#333" stroke-width="1.6"/>
<line x1="219.4" y1="1070.6" x2="228.4" y2="1070.6" stroke="#3a3a3a" stroke-width="1.75" stroke-dasharray="6.015 6.015" stroke-linecap="round"/>
<line x1="276.3" y1="1070.6" x2="252.5" y2="1070.6" stroke="#3a3a3a" stroke-width="1.75" stroke-dasharray="6.015 6.015" stroke-linecap="round"/>
<line x1="219.4" y1="1059.1" x2="219.4" y2="1082.1" stroke="#333" stroke-width="1.6"/>
<line x1="276.3" y1="1059.1" x2="276.3" y2="1082.1" stroke="#333" stroke-width="1.6"/>
<rect x="228.4" y="1048.5" width="24.1" height="43.1" fill="#6B8E23" stroke="#1a1a1a" stroke-width="1.7"/>
<line x1="239.7" y1="1048.5" x2="239.7" y2="1091.6" stroke="#000" stroke-width="5"/>
<circle cx="295" cy="1070.6" r="5.4" fill="#000"/>
<circle cx="300.3" cy="1070.6" r="5.4" fill="#000"/>
<circle cx="327.1" cy="1070.6" r="5.4" fill="#000"/>
<circle cx="355.5" cy="1070.6" r="5.4" fill="#000"/>
<text x="184.6" y="1081.3" font-size="26.5" text-anchor="end" font-family="Liberation Sans, Arial, sans-serif" fill="#111" stroke="#111" stroke-width="0.45">Africa</text>
<line x1="195.4" y1="1124.5" x2="200.4" y2="1124.5" stroke="#333" stroke-width="1.6"/>
<line x1="220.8" y1="1124.5" x2="258.5" y2="1124.5" stroke="#3a3a3a" stroke-width="1.75" stroke-dasharray="6.015 6.015" stroke-linecap="round"/>
<line x1="412.4" y1="1124.5" x2="346.7" y2="1124.5" stroke="#3a3a3a" stroke-width="1.75" stroke-dasharray="6.015 6.015" stroke-linecap="round"/>
<line x1="220.8" y1="1113.0" x2="220.8" y2="1136.0" stroke="#333" stroke-width="1.6"/>
<line x1="412.4" y1="1113.0" x2="412.4" y2="1136.0" stroke="#333" stroke-width="1.6"/>
<rect x="258.5" y="1102.5" width="88.2" height="43.1" fill="#FF0000" stroke="#1a1a1a" stroke-width="1.7"/>
<line x1="289" y1="1102.5" x2="289" y2="1145.5" stroke="#000" stroke-width="5"/>
<circle cx="516" cy="1124.5" r="5.4" fill="#000"/>
<circle cx="521.8" cy="1124.5" r="5.4" fill="#000"/>
<circle cx="541.2" cy="1124.5" r="5.4" fill="#000"/>
<text x="184.6" y="1135.2" font-size="26.5" text-anchor="end" font-family="Liberation Sans, Arial, sans-serif" fill="#111" stroke="#111" stroke-width="0.45">East &amp; SE Asia</text>
<line x1="195.4" y1="1178.5" x2="200.4" y2="1178.5" stroke="#333" stroke-width="1.6"/>
<line x1="219.4" y1="1178.5" x2="238.4" y2="1178.5" stroke="#3a3a3a" stroke-width="1.75" stroke-dasharray="6.015 6.015" stroke-linecap="round"/>
<line x1="319.7" y1="1178.5" x2="273.8" y2="1178.5" stroke="#3a3a3a" stroke-width="1.75" stroke-dasharray="6.015 6.015" stroke-linecap="round"/>
<line x1="219.4" y1="1167.0" x2="219.4" y2="1190.0" stroke="#333" stroke-width="1.6"/>
<line x1="319.7" y1="1167.0" x2="319.7" y2="1190.0" stroke="#333" stroke-width="1.6"/>
<rect x="238.4" y="1156.4" width="35.4" height="43.1" fill="#00FFFF" stroke="#1a1a1a" stroke-width="1.7"/>
<line x1="247.1" y1="1156.4" x2="247.1" y2="1199.5" stroke="#000" stroke-width="5"/>
<circle cx="328.7" cy="1178.5" r="5.4" fill="#000"/>
<text x="184.6" y="1189.2" font-size="26.5" text-anchor="end" font-family="Liberation Sans, Arial, sans-serif" fill="#111" stroke="#111" stroke-width="0.45">India</text>
<line x1="195.4" y1="1232.5" x2="200.4" y2="1232.5" stroke="#333" stroke-width="1.6"/>
<line x1="226.8" y1="1232.5" x2="249.2" y2="1232.5" stroke="#3a3a3a" stroke-width="1.75" stroke-dasharray="6.015 6.015" stroke-linecap="round"/>
<line x1="410.8" y1="1232.5" x2="334.7" y2="1232.5" stroke="#3a3a3a" stroke-width="1.75" stroke-dasharray="6.015 6.015" stroke-linecap="round"/>
<line x1="226.8" y1="1221.0" x2="226.8" y2="1244.0" stroke="#333" stroke-width="1.6"/>
<line x1="410.8" y1="1221.0" x2="410.8" y2="1244.0" stroke="#333" stroke-width="1.6"/>
<rect x="249.2" y="1210.4" width="85.5" height="43.1" fill="#FFA500" stroke="#1a1a1a" stroke-width="1.7"/>
<line x1="283.2" y1="1210.4" x2="283.2" y2="1253.5" stroke="#000" stroke-width="5"/>
<circle cx="557.4" cy="1232.5" r="5.4" fill="#000"/>
<text x="184.6" y="1243.2" font-size="26.5" text-anchor="end" font-family="Liberation Sans, Arial, sans-serif" fill="#111" stroke="#111" stroke-width="0.45">Middle East</text>
<line x1="195.4" y1="1286.4" x2="200.4" y2="1286.4" stroke="#333" stroke-width="1.6"/>
<line x1="220.8" y1="1286.4" x2="235.5" y2="1286.4" stroke="#3a3a3a" stroke-width="1.75" stroke-dasharray="6.015 6.015" stroke-linecap="round"/>
<line x1="319.7" y1="1286.4" x2="273.8" y2="1286.4" stroke="#3a3a3a" stroke-width="1.75" stroke-dasharray="6.015 6.015" stroke-linecap="round"/>
<line x1="220.8" y1="1274.9" x2="220.8" y2="1297.9" stroke="#333" stroke-width="1.6"/>
<line x1="319.7" y1="1274.9" x2="319.7" y2="1297.9" stroke="#333" stroke-width="1.6"/>
<rect x="235.5" y="1264.3" width="38.3" height="43.1" fill="#CDCBCB" stroke="#1a1a1a" stroke-width="1.7"/>
<line x1="241.1" y1="1264.3" x2="241.1" y2="1307.4" stroke="#000" stroke-width="5"/>
<text x="184.6" y="1297.1" font-size="26.5" text-anchor="end" font-family="Liberation Sans, Arial, sans-serif" fill="#111" stroke="#111" stroke-width="0.45">RestAsia</text>
<line x1="195.4" y1="1340.3" x2="200.4" y2="1340.3" stroke="#333" stroke-width="1.6"/>
<line x1="243.4" y1="1340.3" x2="253.6" y2="1340.3" stroke="#3a3a3a" stroke-width="1.75" stroke-dasharray="6.015 6.015" stroke-linecap="round"/>
<line x1="315.4" y1="1340.3" x2="282.7" y2="1340.3" stroke="#3a3a3a" stroke-width="1.75" stroke-dasharray="6.015 6.015" stroke-linecap="round"/>
<line x1="243.4" y1="1328.8" x2="243.4" y2="1351.8" stroke="#333" stroke-width="1.6"/>
<line x1="315.4" y1="1328.8" x2="315.4" y2="1351.8" stroke="#333" stroke-width="1.6"/>
<rect x="253.6" y="1318.2" width="29.1" height="43.1" fill="#A020F0" stroke="#1a1a1a" stroke-width="1.7"/>
<line x1="275.4" y1="1318.2" x2="275.4" y2="1361.3" stroke="#000" stroke-width="5"/>
<text x="184.6" y="1351.0" font-size="26.5" text-anchor="end" font-family="Liberation Sans, Arial, sans-serif" fill="#111" stroke="#111" stroke-width="0.45">Oceania</text>
<line x1="218.0" y1="1388.4" x2="218.0" y2="1382.9" stroke="#333" stroke-width="1.6"/>
<text x="218.0" y="1432.6" font-size="27" text-anchor="middle" font-family="Liberation Sans, Arial, sans-serif" fill="#111" stroke="#111" stroke-width="0.45">0.00</text>
<line x1="379.6" y1="1388.4" x2="379.6" y2="1382.9" stroke="#333" stroke-width="1.6"/>
<text x="379.6" y="1432.6" font-size="27" text-anchor="middle" font-family="Liberation Sans, Arial, sans-serif" fill="#111" stroke="#111" stroke-width="0.45">0.05</text>
<line x1="541.2" y1="1388.4" x2="541.2" y2="1382.9" stroke="#333" stroke-width="1.6"/>
<text x="541.2" y="1432.6" font-size="27" text-anchor="middle" font-family="Liberation Sans, Arial, sans-serif" fill="#111" stroke="#111" stroke-width="0.45">0.10</text>
<line x1="702.8" y1="1388.4" x2="702.8" y2="1382.9" stroke="#333" stroke-width="1.6"/>
<text x="702.8" y="1432.6" font-size="27" text-anchor="middle" font-family="Liberation Sans, Arial, sans-serif" fill="#111" stroke="#111" stroke-width="0.45">0.15</text>
<text x="511.5" y="1471.2" font-size="27" text-anchor="middle" font-family="Liberation Sans, Arial, sans-serif" fill="#111" stroke="#111" stroke-width="0.45">Average upward growth</text>
<rect x="1067.3" y="805.3" width="634.5" height="583.2" fill="none" stroke="#333" stroke-width="1.9"/>
<line x1="1067.3" y1="854.8" x2="1072.3" y2="854.8" stroke="#333" stroke-width="1.6"/>
<line x1="1091" y1="854.8" x2="1182" y2="854.8" stroke="#3a3a3a" stroke-width="1.75" stroke-dasharray="6.015 6.015" stroke-linecap="round"/>
<line x1="1532.1" y1="854.8" x2="1329.2" y2="854.8" stroke="#3a3a3a" stroke-width="1.75" stroke-dasharray="6.015 6.015" stroke-linecap="round"/>
<line x1="1091" y1="843.3" x2="1091" y2="866.3" stroke="#333" stroke-width="1.6"/>
<line x1="1532.1" y1="843.3" x2="1532.1" y2="866.3" stroke="#333" stroke-width="1.6"/>
<rect x="1182" y="832.7" width="147.2" height="43.1" fill="#0000FF" stroke="#1a1a1a" stroke-width="1.7"/>
<line x1="1250.4" y1="832.7" x2="1250.4" y2="875.8" stroke="#000" stroke-width="5"/>
<circle cx="1578.8" cy="854.8" r="5.2" fill="#000"/>
<text x="1057" y="865.5" font-size="26.5" text-anchor="end" font-family="Liberation Sans, Arial, sans-serif" fill="#111" stroke="#111" stroke-width="0.45">China</text>
<line x1="1067.3" y1="908.8" x2="1072.3" y2="908.8" stroke="#333" stroke-width="1.6"/>
<line x1="1098.5" y1="908.8" x2="1129.6" y2="908.8" stroke="#3a3a3a" stroke-width="1.75" stroke-dasharray="6.015 6.015" stroke-linecap="round"/>
<line x1="1218.1" y1="908.8" x2="1167.7" y2="908.8" stroke="#3a3a3a" stroke-width="1.75" stroke-dasharray="6.015 6.015" stroke-linecap="round"/>
<line x1="1098.5" y1="897.2" x2="1098.5" y2="920.2" stroke="#333" stroke-width="1.6"/>
<line x1="1218.1" y1="897.2" x2="1218.1" y2="920.2" stroke="#333" stroke-width="1.6"/>
<rect x="1129.6" y="886.6" width="38.1" height="43.1" fill="#FFB6C1" stroke="#1a1a1a" stroke-width="1.7"/>
<line x1="1145.6" y1="886.6" x2="1145.6" y2="929.8" stroke="#000" stroke-width="5"/>
<circle cx="1231.6" cy="908.8" r="5.2" fill="#000"/>
<circle cx="1273.5" cy="908.8" r="5.2" fill="#000"/>
<circle cx="1284.4" cy="908.8" r="5.2" fill="#000"/>
<text x="1057" y="919.5" font-size="26.5" text-anchor="end" font-family="Liberation Sans, Arial, sans-serif" fill="#111" stroke="#111" stroke-width="0.45">Europe</text>
<line x1="1067.3" y1="962.7" x2="1072.3" y2="962.7" stroke="#333" stroke-width="1.6"/>
<line x1="1097" y1="962.7" x2="1116.7" y2="962.7" stroke="#3a3a3a" stroke-width="1.75" stroke-dasharray="6.015 6.015" stroke-linecap="round"/>
<line x1="1232" y1="962.7" x2="1167.7" y2="962.7" stroke="#3a3a3a" stroke-width="1.75" stroke-dasharray="6.015 6.015" stroke-linecap="round"/>
<line x1="1097" y1="951.2" x2="1097" y2="974.2" stroke="#333" stroke-width="1.6"/>
<line x1="1232" y1="951.2" x2="1232" y2="974.2" stroke="#333" stroke-width="1.6"/>
<rect x="1116.7" y="940.6" width="51.0" height="43.1" fill="#00FF00" stroke="#1a1a1a" stroke-width="1.7"/>
<line x1="1141" y1="940.6" x2="1141" y2="983.7" stroke="#000" stroke-width="5"/>
<circle cx="1258.7" cy="962.7" r="5.2" fill="#000"/>
<circle cx="1277.4" cy="962.7" r="5.2" fill="#000"/>
<circle cx="1414.3" cy="962.7" r="5.2" fill="#000"/>
<text x="1057" y="973.4" font-size="26.5" text-anchor="end" font-family="Liberation Sans, Arial, sans-serif" fill="#111" stroke="#111" stroke-width="0.45">CS America</text>
<line x1="1067.3" y1="1016.6" x2="1072.3" y2="1016.6" stroke="#333" stroke-width="1.6"/>
<line x1="1101.5" y1="1016.6" x2="1126.8" y2="1016.6" stroke="#3a3a3a" stroke-width="1.75" stroke-dasharray="6.015 6.015" stroke-linecap="round"/>
<line x1="1268" y1="1016.6" x2="1199" y2="1016.6" stroke="#3a3a3a" stroke-width="1.75" stroke-dasharray="6.015 6.015" stroke-linecap="round"/>
<line x1="1101.5" y1="1005.1" x2="1101.5" y2="1028.2" stroke="#333" stroke-width="1.6"/>
<line x1="1268" y1="1005.1" x2="1268" y2="1028.2" stroke="#333" stroke-width="1.6"/>
<rect x="1126.8" y="994.5" width="72.2" height="43.1" fill="#ADD8E6" stroke="#1a1a1a" stroke-width="1.7"/>
<line x1="1156.3" y1="994.5" x2="1156.3" y2="1037.7" stroke="#000" stroke-width="5"/>
<text x="1057" y="1027.3" font-size="26.5" text-anchor="end" font-family="Liberation Sans, Arial, sans-serif" fill="#111" stroke="#111" stroke-width="0.45">North America</text>
<line x1="1067.3" y1="1070.6" x2="1072.3" y2="1070.6" stroke="#333" stroke-width="1.6"/>
<line x1="1089.7" y1="1070.6" x2="1197" y2="1070.6" stroke="#3a3a3a" stroke-width="1.75" stroke-dasharray="6.015 6.015" stroke-linecap="round"/>
<line x1="1541.6" y1="1070.6" x2="1348.6" y2="1070.6" stroke="#3a3a3a" stroke-width="1.75" stroke-dasharray="6.015 6.015" stroke-linecap="round"/>
<line x1="1089.7" y1="1059.1" x2="1089.7" y2="1082.1" stroke="#333" stroke-width="1.6"/>
<line x1="1541.6" y1="1059.1" x2="1541.6" y2="1082.1" stroke="#333" stroke-width="1.6"/>
<rect x="1197" y="1048.5" width="151.6" height="43.1" fill="#6B8E23" stroke="#1a1a1a" stroke-width="1.7"/>
<line x1="1262.6" y1="1048.5" x2="1262.6" y2="1091.6" stroke="#000" stroke-width="5"/>
<circle cx="1677.4" cy="1070.6" r="5.2" fill="#000"/>
<text x="1057" y="1081.3" font-size="26.5" text-anchor="end" font-family="Liberation Sans, Arial, sans-serif" fill="#111" stroke="#111" stroke-width="0.45">Africa</text>
<line x1="1067.3" y1="1124.5" x2="1072.3" y2="1124.5" stroke="#333" stroke-width="1.6"/>
<line x1="1092.6" y1="1124.5" x2="1108.8" y2="1124.5" stroke="#3a3a3a" stroke-width="1.75" stroke-dasharray="6.015 6.015" stroke-linecap="round"/>
<line x1="1341.1" y1="1124.5" x2="1207.9" y2="1124.5" stroke="#3a3a3a" stroke-width="1.75" stroke-dasharray="6.015 6.015" stroke-linecap="round"/>
<line x1="1092.6" y1="1113.0" x2="1092.6" y2="1136.0" stroke="#333" stroke-width="1.6"/>
<line x1="1341.1" y1="1113.0" x2="1341.1" y2="1136.0" stroke="#333" stroke-width="1.6"/>
<rect x="1108.8" y="1102.5" width="99.1" height="43.1" fill="#FF0000" stroke="#1a1a1a" stroke-width="1.7"/>
<line x1="1143" y1="1102.5" x2="1143" y2="1145.5" stroke="#000" stroke-width="5"/>
<circle cx="1394.3" cy="1124.5" r="5.2" fill="#000"/>
<circle cx="1402" cy="1124.5" r="5.2" fill="#000"/>
<circle cx="1418.6" cy="1124.5" r="5.2" fill="#000"/>
<text x="1057" y="1135.2" font-size="26.5" text-anchor="end" font-family="Liberation Sans, Arial, sans-serif" fill="#111" stroke="#111" stroke-width="0.45">East &amp; SE Asia</text>
<line x1="1067.3" y1="1178.5" x2="1072.3" y2="1178.5" stroke="#333" stroke-width="1.6"/>
<line x1="1133.1" y1="1178.5" x2="1200.3" y2="1178.5" stroke="#3a3a3a" stroke-width="1.75" stroke-dasharray="6.015 6.015" stroke-linecap="round"/>
<line x1="1473" y1="1178.5" x2="1321.9" y2="1178.5" stroke="#3a3a3a" stroke-width="1.75" stroke-dasharray="6.015 6.015" stroke-linecap="round"/>
<line x1="1133.1" y1="1167.0" x2="1133.1" y2="1190.0" stroke="#333" stroke-width="1.6"/>
<line x1="1473" y1="1167.0" x2="1473" y2="1190.0" stroke="#333" stroke-width="1.6"/>
<rect x="1200.3" y="1156.4" width="121.6" height="43.1" fill="#00FFFF" stroke="#1a1a1a" stroke-width="1.7"/>
<line x1="1241.5" y1="1156.4" x2="1241.5" y2="1199.5" stroke="#000" stroke-width="5"/>
<circle cx="1509.6" cy="1178.5" r="5.2" fill="#000"/>
<text x="1057" y="1189.2" font-size="26.5" text-anchor="end" font-family="Liberation Sans, Arial, sans-serif" fill="#111" stroke="#111" stroke-width="0.45">India</text>
<line x1="1067.3" y1="1232.5" x2="1072.3" y2="1232.5" stroke="#333" stroke-width="1.6"/>
<line x1="1116.7" y1="1232.5" x2="1126.8" y2="1232.5" stroke="#3a3a3a" stroke-width="1.75" stroke-dasharray="6.015 6.015" stroke-linecap="round"/>
<line x1="1314.4" y1="1232.5" x2="1207.9" y2="1232.5" stroke="#3a3a3a" stroke-width="1.75" stroke-dasharray="6.015 6.015" stroke-linecap="round"/>
<line x1="1116.7" y1="1221.0" x2="1116.7" y2="1244.0" stroke="#333" stroke-width="1.6"/>
<line x1="1314.4" y1="1221.0" x2="1314.4" y2="1244.0" stroke="#333" stroke-width="1.6"/>
<rect x="1126.8" y="1210.4" width="81.1" height="43.1" fill="#FFA500" stroke="#1a1a1a" stroke-width="1.7"/>
<line x1="1165.2" y1="1210.4" x2="1165.2" y2="1253.5" stroke="#000" stroke-width="5"/>
<text x="1057" y="1243.2" font-size="26.5" text-anchor="end" font-family="Liberation Sans, Arial, sans-serif" fill="#111" stroke="#111" stroke-width="0.45">Middle East</text>
<line x1="1067.3" y1="1286.4" x2="1072.3" y2="1286.4" stroke="#333" stroke-width="1.6"/>
<line x1="1092.7" y1="1286.4" x2="1135.8" y2="1286.4" stroke="#3a3a3a" stroke-width="1.75" stroke-dasharray="6.015 6.015" stroke-linecap="round"/>
<line x1="1290.2" y1="1286.4" x2="1220.2" y2="1286.4" stroke="#3a3a3a" stroke-width="1.75" stroke-dasharray="6.015 6.015" stroke-linecap="round"/>
<line x1="1092.7" y1="1274.9" x2="1092.7" y2="1297.9" stroke="#333" stroke-width="1.6"/>
<line x1="1290.2" y1="1274.9" x2="1290.2" y2="1297.9" stroke="#333" stroke-width="1.6"/>
<rect x="1135.8" y="1264.3" width="84.4" height="43.1" fill="#CDCBCB" stroke="#1a1a1a" stroke-width="1.7"/>
<line x1="1171.1" y1="1264.3" x2="1171.1" y2="1307.4" stroke="#000" stroke-width="5"/>
<circle cx="1414.6" cy="1286.4" r="5.2" fill="#000"/>
<text x="1057" y="1297.1" font-size="26.5" text-anchor="end" font-family="Liberation Sans, Arial, sans-serif" fill="#111" stroke="#111" stroke-width="0.45">RestAsia</text>
<line x1="1067.3" y1="1340.3" x2="1072.3" y2="1340.3" stroke="#333" stroke-width="1.6"/>
<line x1="1121.2" y1="1340.3" x2="1125.6" y2="1340.3" stroke="#3a3a3a" stroke-width="1.75" stroke-dasharray="6.015 6.015" stroke-linecap="round"/>
<line x1="1166.1" y1="1340.3" x2="1151.3" y2="1340.3" stroke="#3a3a3a" stroke-width="1.75" stroke-dasharray="6.015 6.015" stroke-linecap="round"/>
<line x1="1121.2" y1="1328.8" x2="1121.2" y2="1351.8" stroke="#333" stroke-width="1.6"/>
<line x1="1166.1" y1="1328.8" x2="1166.1" y2="1351.8" stroke="#333" stroke-width="1.6"/>
<rect x="1125.6" y="1318.2" width="25.7" height="43.1" fill="#A020F0" stroke="#1a1a1a" stroke-width="1.7"/>
<line x1="1142.9" y1="1318.2" x2="1142.9" y2="1361.3" stroke="#000" stroke-width="5"/>
<text x="1057" y="1351.0" font-size="26.5" text-anchor="end" font-family="Liberation Sans, Arial, sans-serif" fill="#111" stroke="#111" stroke-width="0.45">Oceania</text>
<line x1="1089.6" y1="1388.5" x2="1089.6" y2="1383.0" stroke="#333" stroke-width="1.6"/>
<text x="1089.6" y="1432.6" font-size="27" text-anchor="middle" font-family="Liberation Sans, Arial, sans-serif" fill="#111" stroke="#111" stroke-width="0.45">0.00</text>
<line x1="1188.8999999999999" y1="1388.5" x2="1188.8999999999999" y2="1383.0" stroke="#333" stroke-width="1.6"/>
<text x="1188.8999999999999" y="1432.6" font-size="27" text-anchor="middle" font-family="Liberation Sans, Arial, sans-serif" fill="#111" stroke="#111" stroke-width="0.45">0.05</text>
<line x1="1288.1999999999998" y1="1388.5" x2="1288.1999999999998" y2="1383.0" stroke="#333" stroke-width="1.6"/>
<text x="1288.1999999999998" y="1432.6" font-size="27" text-anchor="middle" font-family="Liberation Sans, Arial, sans-serif" fill="#111" stroke="#111" stroke-width="0.45">0.10</text>
<line x1="1387.5" y1="1388.5" x2="1387.5" y2="1383.0" stroke="#333" stroke-width="1.6"/>
<text x="1387.5" y="1432.6" font-size="27" text-anchor="middle" font-family="Liberation Sans, Arial, sans-serif" fill="#111" stroke="#111" stroke-width="0.45">0.15</text>
<line x1="1486.8" y1="1388.5" x2="1486.8" y2="1383.0" stroke="#333" stroke-width="1.6"/>
<text x="1486.8" y="1432.6" font-size="27" text-anchor="middle" font-family="Liberation Sans, Arial, sans-serif" fill="#111" stroke="#111" stroke-width="0.45">0.20</text>
<line x1="1586.1" y1="1388.5" x2="1586.1" y2="1383.0" stroke="#333" stroke-width="1.6"/>
<text x="1586.1" y="1432.6" font-size="27" text-anchor="middle" font-family="Liberation Sans, Arial, sans-serif" fill="#111" stroke="#111" stroke-width="0.45">0.25</text>
<line x1="1685.3999999999999" y1="1388.5" x2="1685.3999999999999" y2="1383.0" stroke="#333" stroke-width="1.6"/>
<text x="1685.3999999999999" y="1432.6" font-size="27" text-anchor="middle" font-family="Liberation Sans, Arial, sans-serif" fill="#111" stroke="#111" stroke-width="0.45">0.30</text>
<text x="1383.5" y="1471.2" font-size="27" text-anchor="middle" font-family="Liberation Sans, Arial, sans-serif" fill="#111" stroke="#111" stroke-width="0.45">Average outward growth</text>
<text transform="translate(122.8,812.2) scale(1.0,1)" font-size="38.4" font-weight="bold" font-family="Liberation Sans, Arial, sans-serif" fill="#000">(b)</text>
<text transform="translate(1007.5,819.3) scale(0.96,1)" font-size="38.4" font-weight="bold" font-family="Liberation Sans, Arial, sans-serif" fill="#000">(c)</text></svg>
</body></html>
